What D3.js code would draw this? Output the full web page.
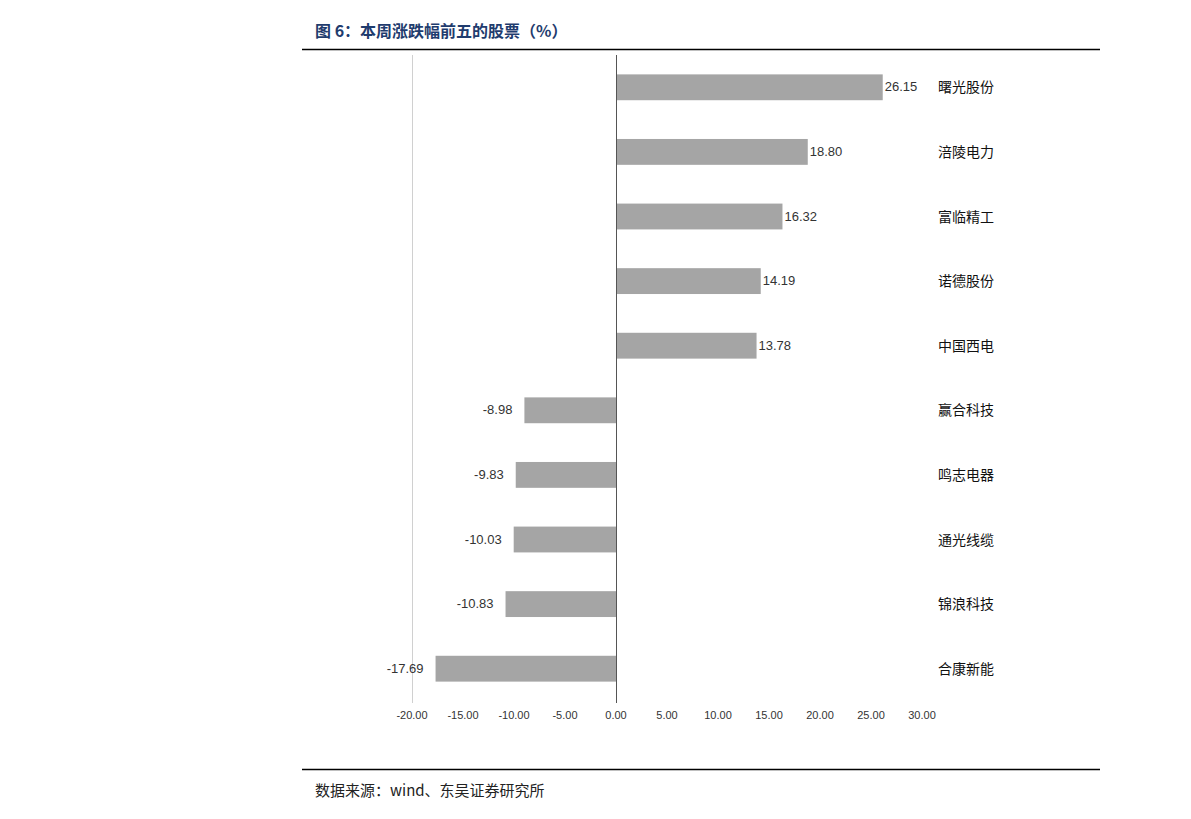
<!DOCTYPE html>
<html><head><meta charset="utf-8">
<script src="https://cdn.jsdelivr.net/npm/d3@7"></script>
<style>body{margin:0;background:#fff;font-family:"Liberation Sans",Arial,sans-serif}</style>
</head><body>
<script>
// stocks, top to bottom
var names = ["曙光股份","涪陵电力","富临精工","诺德股份","中国西电","赢合科技","鸣志电器","通光线缆","锦浪科技","合康新能"];
var values = [26.15, 18.80, 16.32, 14.19, 13.78, -8.98, -9.83, -10.03, -10.83, -17.69];
var ticks = [-20,-15,-10,-5,0,5,10,15,20,25,30];

var width = 1191, height = 819;
var svg = d3.select("body").append("svg").attr("width", width).attr("height", height);

var x = d3.scaleLinear().domain([-20,30]).range([412,922]);
var y = d3.scaleBand().domain(names).range([55,701]).paddingInner(0.6).paddingOuter(0.3);

//title and rules
svg.append("text").attr("x",315).attr("y",37).attr("fill","#1f3c6e")
  .attr("font-family","'Noto Sans CJK SC'").attr("font-size",16).attr("font-weight","bold")
  .text("图 6：本周涨跌幅前五的股票（%）");
svg.append("line").attr("x1",302).attr("x2",1100).attr("y1",49.5).attr("y2",49.5).attr("stroke","#000").attr("stroke-width",1.5);
svg.append("line").attr("x1",302).attr("x2",1100).attr("y1",769.5).attr("y2",769.5).attr("stroke","#000").attr("stroke-width",1.5);
svg.append("text").attr("x",315).attr("y",796).attr("font-family","'Noto Sans CJK SC'").attr("font-size",15).attr("fill","#222")
  .text("数据来源：wind、东吴证券研究所");

//left boundary line
svg.append("line").attr("x1",x(-20)+0.5).attr("x2",x(-20)+0.5).attr("y1",55).attr("y2",703).attr("stroke","#d0d0d0");

//bars
svg.selectAll("rect.bar").data(values).enter().append("rect")
  .attr("x", function(d){return x(Math.min(0,d));})
  .attr("width", function(d){return Math.abs(x(d)-x(0));})
  .attr("y", function(d,i){return y(names[i]);})
  .attr("height", y.bandwidth())
  .attr("fill","#a5a5a5");

//zero axis
svg.append("line").attr("x1",x(0)+0.5).attr("x2",x(0)+0.5).attr("y1",55).attr("y2",703).attr("stroke","#555");

//value labels
svg.selectAll("text.val").data(values).enter().append("text")
  .attr("x", function(d){return d>0 ? x(d)+2 : x(d)-12;})
  .attr("y", function(d,i){return y(names[i])+y.bandwidth()/2+4;})
  .attr("text-anchor", function(d){return d>0?"start":"end";})
  .attr("font-size",13).attr("fill","#333")
  .text(function(d){return d.toFixed(2);});

//category labels
svg.selectAll("text.cat").data(names).enter().append("text")
  .attr("x",938).attr("y", function(d){return y(d)+y.bandwidth()/2+5;})
  .attr("font-family","'Noto Sans CJK SC'").attr("font-size",14).attr("fill","#111")
  .text(function(d){return d;});

//x axis labels
svg.selectAll("text.tick").data(ticks).enter().append("text")
  .attr("x", function(d){return x(d);}).attr("y",719).attr("text-anchor","middle")
  .attr("font-size",11).attr("fill","#333")
  .text(function(d){return d.toFixed(2);});
</script>
</body></html>
